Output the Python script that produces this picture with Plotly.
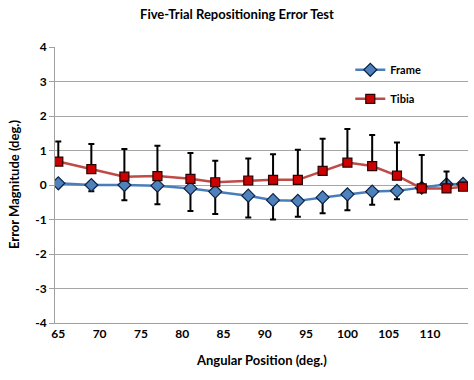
import plotly.graph_objects as go

angles = [65, 69, 73, 77, 81, 84, 88, 91, 94, 97, 100, 103, 106, 109, 112, 114]
frame = [0.05, 0.0, 0.0, -0.02, -0.10, -0.19, -0.31, -0.44, -0.46, -0.36, -0.27, -0.19, -0.17, -0.08, 0.02, 0.03]
frame_err = [0.05, 0.18, 0.44, 0.54, 0.65, 0.65, 0.63, 0.56, 0.46, 0.46, 0.46, 0.38, 0.24, 0.10, 0.05, 0.05]
tibia = [0.68, 0.46, 0.24, 0.26, 0.18, 0.08, 0.13, 0.15, 0.15, 0.41, 0.65, 0.55, 0.27, -0.10, -0.10, -0.05]
tibia_err = [0.58, 0.73, 0.80, 0.88, 0.75, 0.62, 0.64, 0.74, 0.87, 0.93, 0.97, 0.90, 0.96, 0.97, 0.49, 0.12]
x_ticks = [65, 70, 75, 80, 85, 90, 95, 100, 105, 110]
y_ticks = [-4, -3, -2, -1, 0, 1, 2, 3, 4]

FONT = "Lato"
zeros = [0] * len(angles)

fig = go.Figure()
fig.add_trace(go.Scatter(
    x=angles, y=frame, name="<b>Frame</b>", mode="lines+markers", legendgroup="f",
    line=dict(color="#4A7EBB", width=2.5),
    marker=dict(symbol="diamond", size=10, color="#4F81BD", line=dict(color="#0D2240", width=1.2)),
    error_y=dict(type="data", symmetric=False, array=zeros, arrayminus=frame_err,
                 color="black", thickness=2, width=3),
))
fig.add_trace(go.Scatter(
    x=angles, y=tibia, name="<b>Tibia</b>", mode="lines+markers", legendgroup="t",
    line=dict(color="#BE4B48", width=2.5),
    marker=dict(symbol="square", size=9, color="#CC0000", line=dict(color="#2A0000", width=1.2)),
    error_y=dict(type="data", symmetric=False, array=tibia_err, arrayminus=zeros,
                 color="black", thickness=2, width=3),
))

fig.update_layout(
    width=474, height=380,
    margin=dict(l=55, r=6, t=47, b=57, autoexpand=False),
    paper_bgcolor="white", plot_bgcolor="white",
    font=dict(family=FONT, color="black", size=12),
    title=dict(text="<b>Five-Trial Repositioning Error Test</b>", x=0.5, xanchor="center",
               y=1 - 14 / 380, yanchor="middle", font=dict(family=FONT, size=13)),
    legend=dict(x=0.715, y=0.97, xanchor="left", yanchor="top", bgcolor="rgba(0,0,0,0)",
                font=dict(family=FONT, size=11), tracegroupgap=10, itemwidth=30),
    showlegend=True,
    annotations=[
        dict(text="<b>Angular Position (deg.)</b>", xref="paper", yref="paper",
             x=0.5, y=-37 / 276, xanchor="center", yanchor="middle", showarrow=False,
             font=dict(family=FONT, size=13)),
        dict(text="<b>Error Magnitude (deg.)</b>", xref="paper", yref="paper",
             x=-41 / 413, y=0.5, xanchor="center", yanchor="middle", showarrow=False,
             textangle=-90, font=dict(family=FONT, size=13)),
    ],
)

fig.update_xaxes(
    range=[64.6, 114.6], tickmode="array", tickvals=x_ticks,
    ticktext=["<b>%d</b>" % v for v in x_ticks],
    showgrid=False, zeroline=False, showline=True, linecolor="#A0A0A0", linewidth=1,
    ticks="", ticklen=6, tickcolor="white", tickfont=dict(family=FONT, size=12), automargin=False,
)
fig.update_yaxes(
    range=[-4, 4], tickmode="array", tickvals=y_ticks,
    ticktext=["<b>%d</b>" % v for v in y_ticks],
    showgrid=True, gridcolor="#A6A6A6", gridwidth=1,
    zeroline=True, zerolinecolor="#A6A6A6", zerolinewidth=1,
    showline=True, linecolor="#A0A0A0", linewidth=1,
    ticks="outside", ticklen=5, tickcolor="#A0A0A0",
    tickfont=dict(family=FONT, size=12), automargin=False,
)

fig.write_html("out.html", config={"displayModeBar": False},
               post_script="document.body.style.margin='0';")
